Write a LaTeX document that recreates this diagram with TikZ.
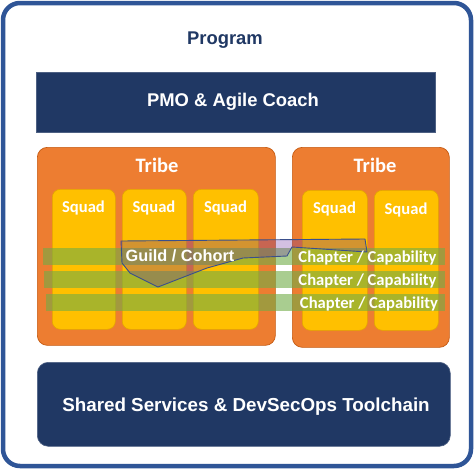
\documentclass[tikz,border=0pt]{standalone}
\usepackage{fontspec}
\setmainfont{Liberation Sans}
\newfontfamily\calib{Carlito}
\definecolor{navy}{HTML}{203864}
\definecolor{frameblue}{HTML}{2F5597}
\definecolor{tribeor}{HTML}{ED7D31}
\definecolor{tribeedge}{HTML}{C55A11}
\definecolor{squady}{HTML}{FFC000}
\definecolor{squadedge}{HTML}{E3A600}
\definecolor{bandgreen}{HTML}{70AD47}
\definecolor{guildpurple}{HTML}{7030A0}
\definecolor{guildedge}{HTML}{3A4F8C}
\begin{document}
\begin{tikzpicture}[x=1pt,y=-1pt,
  navybox/.style={fill=navy,draw=navy!80!white,line width=0.6pt,inner sep=0pt,anchor=north west},
  tribebox/.style={fill=tribeor,draw=tribeedge,line width=0.7pt,rounded corners=10pt,inner sep=0pt,anchor=north west},
  squadbox/.style={fill=squady,draw=squadedge,line width=0.6pt,rounded corners=8pt,inner sep=0pt,anchor=north west,minimum height=140pt},
  band/.style={fill=bandgreen,fill opacity=0.6,inner sep=0pt,anchor=north west,minimum height=17pt},
  arialtxt/.style={font=\fontsize{18.4}{20}\selectfont\bfseries,inner sep=0pt,anchor=base},
  tribetxt/.style={text=white,font=\calib\fontsize{20.5}{22}\selectfont\bfseries,inner sep=0pt,anchor=base},
  squadtxt/.style={text=white,font=\calib\fontsize{16.6}{18}\selectfont\bfseries,inner sep=0pt,anchor=base},
  chaptxt/.style={text=white,font=\calib\fontsize{16.6}{18}\selectfont\bfseries,inner sep=0pt,anchor=base},
]
\useasboundingbox (0,0) rectangle (474,469);
% outer frame
\draw[frameblue,line width=4.5pt,rounded corners=17pt,fill=white] (3,3) rectangle (471,466);
\node[arialtxt,text=navy] (prog) at (225,44) {Program};
% PMO
\node[navybox,minimum width=399pt,minimum height=60pt] (pmo) at (36,72) {};
\node[arialtxt,text=white] (pmotxt) at (233,106) {PMO \& Agile Coach};
% tribes
\node[tribebox,minimum width=238pt,minimum height=198pt] (t1) at (37,147) {};
\node[tribebox,minimum width=157pt,minimum height=200pt] (t2) at (292,147) {};
\node[tribetxt] (t1txt) at (157,172) {Tribe};
\node[tribetxt] (t2txt) at (375,172) {Tribe};
% squads
\node[squadbox,minimum width=63pt] (s1) at (52,189) {};
\node[squadbox,minimum width=64pt] (s2) at (122,189) {};
\node[squadbox,minimum width=65pt] (s3) at (193,189) {};
\node[squadbox,minimum width=65pt] (s4) at (302,190) {};
\node[squadbox,minimum width=64pt] (s5) at (374,190) {};
\foreach \n/\x/\y in {s1/83.5/212,s2/154/212,s3/225.5/212,s4/334.5/213,s5/406/214}
  \node[squadtxt] (\n txt) at (\x,\y) {Squad};
% chapter bands
\node[band,minimum width=402pt] (b1) at (43,247.5) {};
\node[band,minimum width=401pt] (b2) at (44,270.5) {};
\node[band,minimum width=399pt] (b3) at (46,294) {};
% guild polygon
\fill[guildpurple,fill opacity=0.3] (121,241) -- (365,239) -- (367,252) -- (292,247) -- (287,256) -- (243,258) -- (207,268) -- (158,287) -- (130,273) -- (122,263) -- cycle;
\draw[guildedge,line width=0.9pt,line join=round] (121,241) -- (365,239) -- (367,252) -- (292,247) -- (287,256) -- (243,258) -- (207,268) -- (158,287) -- (130,273) -- (122,263) -- cycle;
\node[text=white,font=\fontsize{16.3}{18}\selectfont\bfseries,inner sep=0pt,anchor=base] (guild) at (180,261) {Guild / Cohort};
\node[chaptxt] (c1) at (367.5,262) {Chapter / Capability};
\node[chaptxt] (c2) at (367.5,285) {Chapter / Capability};
\node[chaptxt] (c3) at (369,308) {Chapter / Capability};
% shared services
\node[navybox,rounded corners=11pt,minimum width=413pt,minimum height=84pt] (ss) at (37,362) {};
\node[text=white,font=\fontsize{18.8}{20}\selectfont\bfseries,inner sep=0pt,anchor=base] (sstxt) at (246,411) {Shared Services \& DevSecOps Toolchain};
\end{tikzpicture}
\end{document}
